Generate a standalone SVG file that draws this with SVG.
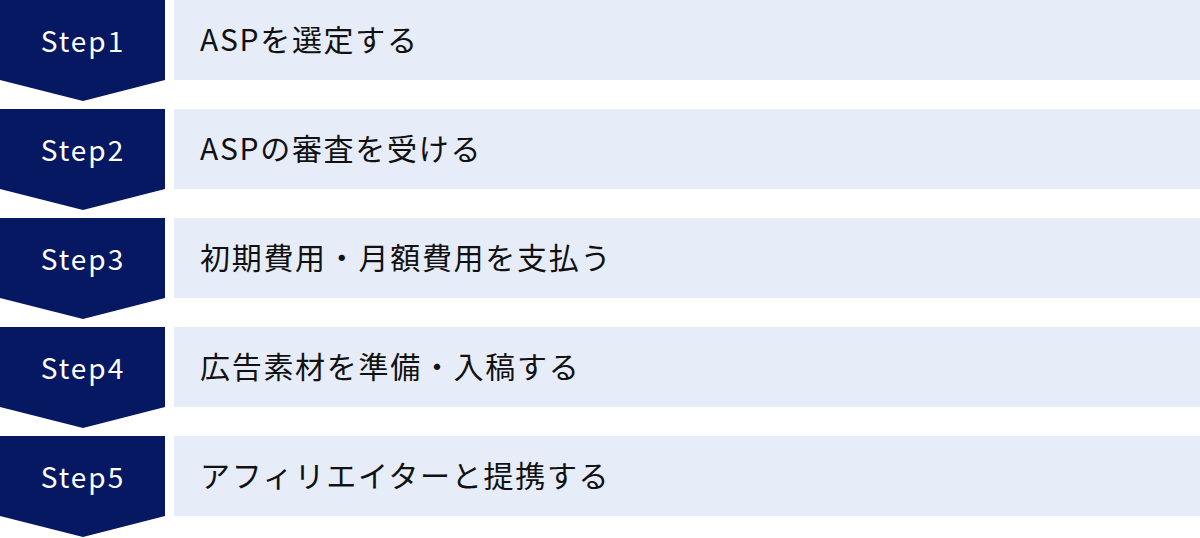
<svg xmlns="http://www.w3.org/2000/svg" width="1200" height="538" viewBox="0 0 1200 538">
<style>
.arrow{fill:#061862}
.box{fill:#e6ecf8}
.step{font-family:"Noto Sans CJK JP","Noto Sans",sans-serif;font-size:28px;fill:#ffffff;letter-spacing:2px;text-anchor:middle}
.label{font-family:"Noto Sans CJK JP",sans-serif;font-size:30px;fill:#111111;letter-spacing:1.7px}
</style>
<rect width="1200" height="538" fill="#ffffff"/>
<g id="step1" transform="translate(0,0)">
<polygon class="arrow" points="0,0 165,0 165,80 83,101 0,80"/>
<rect class="box" x="174" y="0" width="1026" height="80"/>
<text class="step" x="83" y="52">Step1</text>
<text class="label" x="200" y="51">ASPを選定する</text>
</g>
<g id="step2" transform="translate(0,109)">
<polygon class="arrow" points="0,0 165,0 165,80 83,101 0,80"/>
<rect class="box" x="174" y="0" width="1026" height="80"/>
<text class="step" x="83" y="52">Step2</text>
<text class="label" x="200" y="51">ASPの審査を受ける</text>
</g>
<g id="step3" transform="translate(0,218)">
<polygon class="arrow" points="0,0 165,0 165,80 83,101 0,80"/>
<rect class="box" x="174" y="0" width="1026" height="80"/>
<text class="step" x="83" y="52">Step3</text>
<text class="label" x="200" y="51">初期費用・月額費用を支払う</text>
</g>
<g id="step4" transform="translate(0,327)">
<polygon class="arrow" points="0,0 165,0 165,80 83,101 0,80"/>
<rect class="box" x="174" y="0" width="1026" height="80"/>
<text class="step" x="83" y="52">Step4</text>
<text class="label" x="200" y="51">広告素材を準備・入稿する</text>
</g>
<g id="step5" transform="translate(0,436)">
<polygon class="arrow" points="0,0 165,0 165,80 83,101 0,80"/>
<rect class="box" x="174" y="0" width="1026" height="80"/>
<text class="step" x="83" y="52">Step5</text>
<text class="label" x="200" y="51">アフィリエイターと提携する</text>
</g>
<g id="connectors"></g>
</svg>
